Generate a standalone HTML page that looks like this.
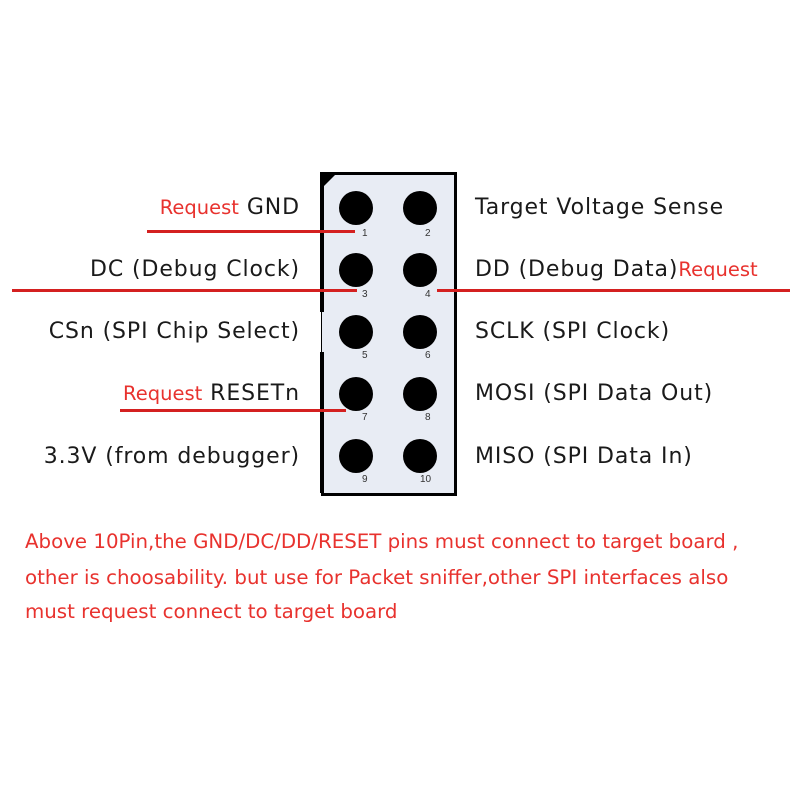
<!DOCTYPE html>
<html><head><style>
body{margin:0;width:800px;height:800px;background:#fff;position:relative;overflow:hidden;font-family:"Liberation Sans",sans-serif}
.t{position:absolute;font-size:22px;color:#1a1a1a;white-space:nowrap;line-height:1;font-family:"DejaVu Sans","Liberation Sans",sans-serif;letter-spacing:0.9px}
.l{right:500px}
.r{left:475px}
.red{color:#e8322e;font-size:19.5px;letter-spacing:0}
.line{position:absolute;height:3px;background:#d42020}
.n{position:absolute;font-size:10px;color:#333}
.c{position:absolute;width:34px;height:34px;border-radius:50%;background:#000}
.b{position:absolute;left:25px;font-size:19.8px;color:#e8322e;white-space:nowrap;font-family:"DejaVu Sans","Liberation Sans",sans-serif}
</style></head><body>
<div style="position:absolute;left:321px;top:172px;width:133px;height:318px;background:#e8ecf4;border:3px solid #000;border-left:none"></div>
<div style="position:absolute;left:320px;top:172px;width:4px;height:140px;background:#000"></div>
<div style="position:absolute;left:321px;top:312px;width:1px;height:40px;background:#000"></div>
<div style="position:absolute;left:320px;top:352px;width:4px;height:141px;background:#000"></div>
<div style="position:absolute;left:322px;top:174px;width:0;height:0;border-top:14px solid #000;border-right:14px solid transparent"></div>

<div class="c" style="left:339px;top:191px"></div><div class="c" style="left:403px;top:191px"></div>
<div class="c" style="left:339px;top:253px"></div><div class="c" style="left:403px;top:253px"></div>
<div class="c" style="left:339px;top:315px"></div><div class="c" style="left:403px;top:315px"></div>
<div class="c" style="left:339px;top:377px"></div><div class="c" style="left:403px;top:377px"></div>
<div class="c" style="left:339px;top:439px"></div><div class="c" style="left:403px;top:439px"></div>
<div class="n" style="left:362px;top:228px">1</div><div class="n" style="left:425px;top:228px">2</div>
<div class="n" style="left:362px;top:289px">3</div><div class="n" style="left:425px;top:289px">4</div>
<div class="n" style="left:362px;top:350px">5</div><div class="n" style="left:425px;top:350px">6</div>
<div class="n" style="left:362px;top:412px">7</div><div class="n" style="left:425px;top:412px">8</div>
<div class="n" style="left:362px;top:474px">9</div><div class="n" style="left:420px;top:474px">10</div>

<div class="line" style="left:147px;top:230px;width:208px"></div>
<div class="line" style="left:12px;top:289px;width:345px"></div>
<div class="line" style="left:120px;top:409px;width:226px"></div>
<div class="line" style="left:437px;top:289px;width:353px"></div>

<div class="t l" style="top:197px"><span class="red">Request</span> GND</div>
<div class="t l" style="top:259px">DC (Debug Clock)</div>
<div class="t l" style="top:321px">CSn (SPI Chip Select)</div>
<div class="t l" style="top:383px"><span class="red">Request</span> RESETn</div>
<div class="t l" style="top:446px">3.3V (from debugger)</div>

<div class="t r" style="top:197px">Target Voltage Sense</div>
<div class="t r" style="top:259px">DD (Debug Data)<span class="red">Request</span></div>
<div class="t r" style="top:321px">SCLK (SPI Clock)</div>
<div class="t r" style="top:383px">MOSI (SPI Data Out)</div>
<div class="t r" style="top:446px">MISO (SPI Data In)</div>

<div class="b" style="top:530px">Above 10Pin,the GND/DC/DD/RESET pins must connect to target board ,</div>
<div class="b" style="top:566px">other is choosability. but use for Packet sniffer,other SPI interfaces also</div>
<div class="b" style="top:600px">must request connect to target board</div>
</body></html>
